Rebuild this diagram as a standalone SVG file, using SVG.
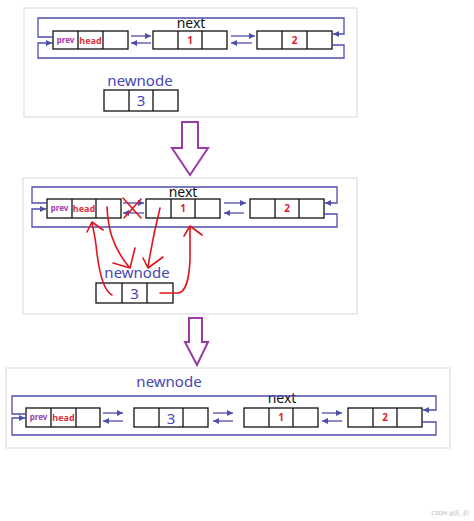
<svg xmlns="http://www.w3.org/2000/svg" width="474" height="521" viewBox="0 0 474 521">
<style>
.frame{fill:#fff;stroke:#d9d9d9;stroke-width:1}
.cell{fill:#fff;stroke:#111;stroke-width:1.3}
.div{stroke:#111;stroke-width:1.3}
.blue{fill:none;stroke:#4e4eaa;stroke-width:1.3}
.red{fill:none;stroke:#e0141e;stroke-width:1.6;stroke-linecap:round;stroke-linejoin:round}
.big{fill:none;stroke:#9a3aa6;stroke-width:2}
.t{font-family:"Noto Sans","Open Sans",sans-serif}
.next{font-size:14px;fill:#111;text-anchor:middle}
.nn{font-size:15px;fill:#4646b4;text-anchor:middle}
.prev{font-size:8px;font-weight:bold;fill:#a040b0;text-anchor:middle}
.head{font-size:9px;font-weight:bold;fill:#e0303a;text-anchor:middle}
.num{font-size:10px;font-weight:bold;fill:#e0202c;text-anchor:middle}
.three{font-size:15px;fill:#4646b4;text-anchor:middle}
</style>
<defs>
<marker id="ah" markerWidth="7" markerHeight="6" refX="6" refY="3" orient="auto" markerUnits="userSpaceOnUse">
<path d="M0,0 L6,3 L0,6 Z" fill="#4e4eaa"/>
</marker>
</defs>
<rect width="474" height="521" fill="#fff"/>

<!-- Panel 1 -->
<rect class="frame" x="24" y="8" width="333" height="109"/>
<g id="p1-head">
<rect class="cell" x="53" y="31" width="75" height="18"/>
<line class="div" x1="78" y1="31" x2="78" y2="49"/><line class="div" x1="103" y1="31" x2="103" y2="49"/>
<text class="t prev" x="65.5" y="43">prev</text><text class="t head" x="90.5" y="43.5">head</text>
</g>
<g id="p1-node1">
<rect class="cell" x="153" y="31" width="74" height="18"/>
<line class="div" x1="178" y1="31" x2="178" y2="49"/><line class="div" x1="202" y1="31" x2="202" y2="49"/>
<text class="t num" x="190" y="44">1</text>
</g>
<g id="p1-node2">
<rect class="cell" x="257" y="31" width="75" height="18"/>
<line class="div" x1="282" y1="31" x2="282" y2="49"/><line class="div" x1="307" y1="31" x2="307" y2="49"/>
<text class="t num" x="294.5" y="44">2</text>
</g>
<text class="t next" x="191" y="28">next</text>
<g id="p1-newnode">
<text class="t nn" x="140" y="86">newnode</text>
<rect class="cell" x="104" y="90" width="74" height="21"/>
<line class="div" x1="129" y1="90" x2="129" y2="111"/><line class="div" x1="153" y1="90" x2="153" y2="111"/>
<text class="t three" x="141" y="106">3</text>
</g>

<!-- Arrow 1 -->
<polygon class="big" points="182,122 198,122 198,148 208,148 190,175 172,148 182,148"/>

<!-- Panel 2 -->
<rect class="frame" x="23" y="178" width="334" height="136"/>
<g id="p2-head">
<rect class="cell" x="47" y="199" width="74" height="19"/>
<line class="div" x1="72" y1="199" x2="72" y2="218"/><line class="div" x1="96" y1="199" x2="96" y2="218"/>
<text class="t prev" x="59.5" y="211">prev</text><text class="t head" x="84" y="211.5">head</text>
</g>
<g id="p2-node1">
<rect class="cell" x="146" y="199" width="74" height="19"/>
<line class="div" x1="171" y1="199" x2="171" y2="218"/><line class="div" x1="195" y1="199" x2="195" y2="218"/>
<text class="t num" x="183" y="212">1</text>
</g>
<g id="p2-node2">
<rect class="cell" x="250" y="199" width="74" height="19"/>
<line class="div" x1="275" y1="199" x2="275" y2="218"/><line class="div" x1="299" y1="199" x2="299" y2="218"/>
<text class="t num" x="287" y="212">2</text>
</g>
<text class="t next" x="183" y="197">next</text>
<g id="p2-newnode">
<text class="t nn" x="137" y="278">newnode</text>
<rect class="cell" x="96" y="283" width="77" height="20"/>
<line class="div" x1="122" y1="283" x2="122" y2="303"/><line class="div" x1="147" y1="283" x2="147" y2="303"/>
<text class="t three" x="134.5" y="299">3</text>
</g>

<!-- Arrow 2 -->
<polygon class="big" points="189,318 202,318 202,342 208,342 197,365 185,342 189,342"/>

<!-- Panel 3 -->
<rect class="frame" x="6" y="368" width="444" height="80"/>
<text class="t nn" x="169" y="387">newnode</text>
<text class="t next" x="282" y="403">next</text>
<g id="p3-head">
<rect class="cell" x="26" y="408" width="74" height="19"/>
<line class="div" x1="51" y1="408" x2="51" y2="427"/><line class="div" x1="76" y1="408" x2="76" y2="427"/>
<text class="t prev" x="38.5" y="420">prev</text><text class="t head" x="63.5" y="420.5">head</text>
</g>
<g id="p3-node3">
<rect class="cell" x="134" y="408" width="74" height="19"/>
<line class="div" x1="159" y1="408" x2="159" y2="427"/><line class="div" x1="183" y1="408" x2="183" y2="427"/>
<text class="t three" x="171" y="423.5">3</text>
</g>
<g id="p3-node1">
<rect class="cell" x="244" y="408" width="74" height="19"/>
<line class="div" x1="269" y1="408" x2="269" y2="427"/><line class="div" x1="293" y1="408" x2="293" y2="427"/>
<text class="t num" x="281" y="421">1</text>
</g>
<g id="p3-node2">
<rect class="cell" x="348" y="408" width="74" height="19"/>
<line class="div" x1="373" y1="408" x2="373" y2="427"/><line class="div" x1="397" y1="408" x2="397" y2="427"/>
<text class="t num" x="385" y="421">2</text>
</g>

<!-- Connectors -->
<g id="connectors">
<!-- panel 1 -->
<path class="blue" d="M131,36 H151" marker-end="url(#ah)"/>
<path class="blue" d="M151,43 H131" marker-end="url(#ah)"/>
<path class="blue" d="M231,36 H255" marker-end="url(#ah)"/>
<path class="blue" d="M252,43 H231" marker-end="url(#ah)"/>
<path class="blue" d="M53,37 H38 V18 H344 V34 H333" marker-end="url(#ah)"/>
<path class="blue" d="M332,45 H344 V58 H38 V43 H52" marker-end="url(#ah)"/>
<!-- panel 2 -->
<path class="blue" d="M123,203 H144" marker-end="url(#ah)"/>
<path class="blue" d="M144,213 H123" marker-end="url(#ah)"/>
<path class="blue" d="M224,203 H246" marker-end="url(#ah)"/>
<path class="blue" d="M244,213 H224" marker-end="url(#ah)"/>
<path class="blue" d="M47,203 H32 V187 H337 V203 H325" marker-end="url(#ah)"/>
<path class="blue" d="M324,214 H337 V227 H32 V209 H46" marker-end="url(#ah)"/>
<path class="red" d="M123,198 L141,218 M141,199 L124,218"/>
<path class="red" d="M112,295 C102,290 98,265 96,245 C95,236 93,229 92,222 M87,232 L92,222 L103,230"/>
<path class="red" d="M107,207 C108,228 112,246 129,267 M113,263 L130,268 L135,248"/>
<path class="red" d="M160,208 C155,228 151,248 148,267 M143,258 L148,268 L163,257"/>
<path class="red" d="M160,293 H178 C186,292 189,280 190,260 V226 M184,236 L190,226 L202,235"/>
<!-- panel 3 -->
<path class="blue" d="M103,413 H123" marker-end="url(#ah)"/>
<path class="blue" d="M123,421 H103" marker-end="url(#ah)"/>
<path class="blue" d="M213,413 H233" marker-end="url(#ah)"/>
<path class="blue" d="M233,421 H213" marker-end="url(#ah)"/>
<path class="blue" d="M322,413 H342" marker-end="url(#ah)"/>
<path class="blue" d="M342,421 H322" marker-end="url(#ah)"/>
<path class="blue" d="M26,414 H12 V396 H436 V410 H423" marker-end="url(#ah)"/>
<path class="blue" d="M422,422 H436 V435 H12 V418 H25" marker-end="url(#ah)"/>
</g>

<text class="t" x="469" y="515" font-size="6" fill="#b8b8b8" text-anchor="end" font-family="'Noto Sans','Noto Sans CJK SC',sans-serif">CSDN @言_韵</text>
</svg>
